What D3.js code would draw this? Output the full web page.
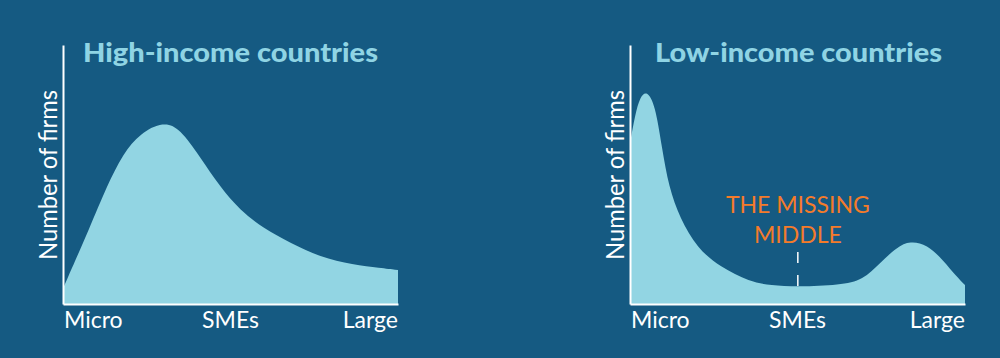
<!DOCTYPE html>
<html lang="en">
<head>
<meta charset="utf-8">
<title>The missing middle</title>
<script src="https://cdn.jsdelivr.net/npm/d3@7"></script>
<style>
  html, body { margin: 0; padding: 0; background: #155a82; }
  svg { display: block; }
  text { font-family: Lato, "Open Sans", sans-serif; }
  .title { fill: #8fd4e4; font-weight: 900; font-size: 26px; }
  .lab { fill: #ffffff; font-size: 23px; }
  .ylab { fill: #ffffff; font-size: 25px; }
  .axis path { stroke: #ffffff; stroke-width: 2; }
  .note { fill: #f47b2a; font-size: 23px; }
</style>
</head>
<body>
<div id="vis"></div>
<script>
  // x in % of firm size axis, y in % of axis height
  var sizeLabels = ["Micro", "SMEs", "Large"];
  var sizePos = [0, 50, 100];

  var highX = [0, 8.1, 13, 18, 23, 30, 34.9, 40.9, 46.9, 52.8, 59.7, 67.8, 76.7, 86.6, 94.6, 100];
  var highY = [6, 29.8, 45.3, 58.2, 65.9, 70.5, 67.8, 56.8, 45.2, 36.3, 29.3, 23.6, 18.1, 15.1, 13.9, 13.1];

  var lowX = [0, 1.5, 3, 5, 7.5, 9.5, 11.6, 14.9, 20, 26.9, 35.8, 42, 50.1, 62.7, 69.6, 74.6, 79.7, 83.6, 88.7, 93.4, 97.6, 100];
  var lowY = [62, 73, 80, 82.5, 77, 60.6, 45, 33.2, 21.6, 14.3, 8.5, 7.2, 6.6, 7.3, 9.3, 15.8, 22, 24.3, 23, 17, 10.4, 7.3];

  var panels = [
    { title: "High-income countries", xs: highX, ys: highY, left: 63, tx: 83, tw: 295, note: false },
    { title: "Low-income countries", xs: lowX, ys: lowY, left: 630, tx: 655, tw: 287, note: true }
  ];

  var svg = d3.select("#vis").append("svg").attr("width", 1000).attr("height", 358);
  svg.append("rect").attr("width", 1000).attr("height", 358).attr("fill", "#155a82");

  var plotW = 335, plotTop = 45, plotBottom = 304;

  panels.forEach(function(p) {
    var x = d3.scaleLinear().domain([0, 100]).range([p.left, p.left + plotW]);
    var y = d3.scaleLinear().domain([0, 100]).range([plotBottom, plotTop]);
    var g = svg.append("g");
    var pts = p.xs.map(function(v, i) { return [v, p.ys[i]]; });

    var area = d3.area()
      .curve(d3.curveBasis)
      .x(function(d) { return x(d[0]); })
      .y0(y(0))
      .y1(function(d) { return y(d[1]); });

    g.append("path").datum(pts).attr("d", area).attr("fill", "#92d5e3");

    g.append("g").attr("class", "axis")
      .attr("transform", "translate(0," + plotBottom + ")")
      .call(d3.axisBottom(x).tickValues([]).tickSizeOuter(0));
    g.append("g").attr("class", "axis")
      .attr("transform", "translate(" + p.left + ",0)")
      .call(d3.axisLeft(y).tickValues([]).tickSizeOuter(0));

    g.append("text").attr("class", "title")
      .attr("x", p.tx).attr("y", 62)
      .attr("textLength", p.tw).attr("lengthAdjust", "spacingAndGlyphs")
      .text(p.title);

    g.append("text").attr("class", "ylab")
      .attr("transform", "translate(" + (p.left - 6) + "," + 175 + ") rotate(-90)")
      .attr("text-anchor", "middle")
      .attr("textLength", 170).attr("lengthAdjust", "spacingAndGlyphs")
      .text("Number of firms");

    g.selectAll(".xl").data(sizeLabels).enter().append("text")
      .attr("class", "lab")
      .attr("x", function(d, i) { return x(sizePos[i]) + (i == 0 ? 1 : 0); })
      .attr("y", 328)
      .attr("text-anchor", function(d, i) { return ["start", "middle", "end"][i]; })
      .text(function(d) { return d; });

    if (p.note) {
      var mx = x(50.1);
      g.append("line")
        .attr("x1", mx).attr("x2", mx)
        .attr("y1", 252).attr("y2", y(6.6))
        .attr("stroke", "#ffffff").attr("stroke-width", 1.5)
        .attr("stroke-dasharray", "11,12");
      g.append("text").attr("class", "note").attr("text-anchor", "middle")
        .attr("x", mx).attr("y", 213).text("THE MISSING");
      g.append("text").attr("class", "note").attr("text-anchor", "middle")
        .attr("x", mx).attr("y", 243).text("MIDDLE");
    }
  });
</script>
</body>
</html>
